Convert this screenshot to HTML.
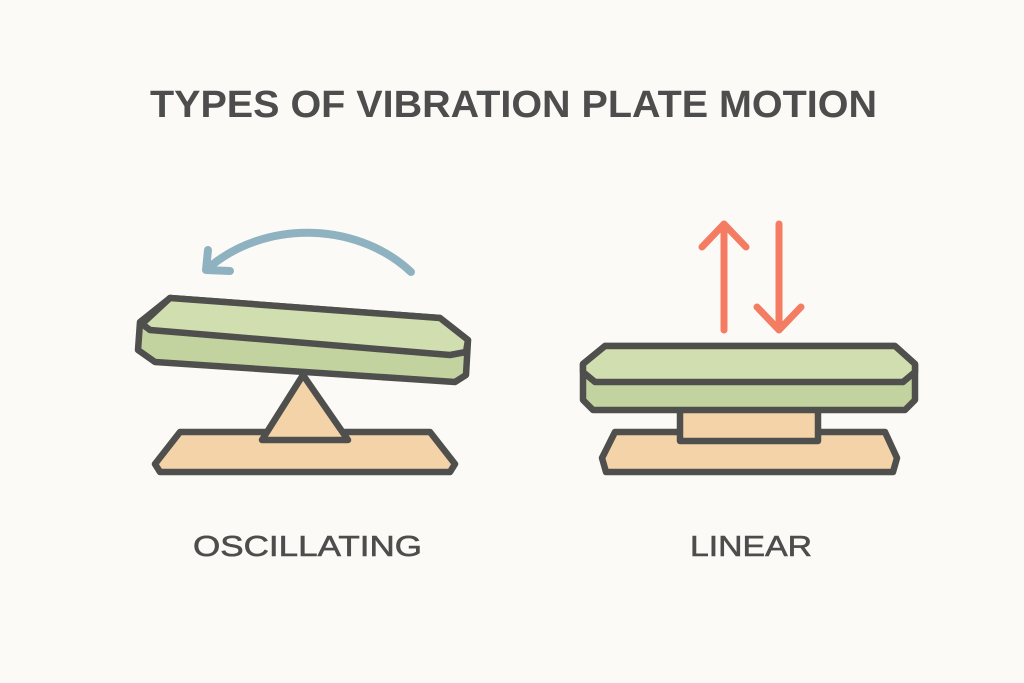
<!DOCTYPE html>
<html><head><style>
html,body{margin:0;padding:0;background:#fbfaf6;}
svg{display:block}
text{font-family:"Liberation Sans",sans-serif;fill:#4d4d4d;}
</style></head><body>
<svg width="1024" height="683" viewBox="0 0 1024 683" xmlns="http://www.w3.org/2000/svg">
<rect width="1024" height="683" fill="#fbfaf6"/>
<text x="150" y="117" font-size="38" font-weight="bold" textLength="727" lengthAdjust="spacingAndGlyphs">TYPES OF VIBRATION PLATE MOTION</text>
<text x="193" y="556" font-size="29" stroke="#4d4d4d" stroke-width="0.6" textLength="229" lengthAdjust="spacingAndGlyphs">OSCILLATING</text>
<text x="690" y="556" font-size="29" stroke="#4d4d4d" stroke-width="0.6" textLength="122" lengthAdjust="spacingAndGlyphs">LINEAR</text>

<g stroke="#4f4f4d" stroke-width="6.5" stroke-linejoin="round" stroke-linecap="round">
<!-- left -->
<path d="M180 432 L430 432 L455 464 L450 472 L160 472 L155 464 Z" fill="#f4d3a9"/>
<path d="M303 375 L348 440 L262 440 Z" fill="#f4d3a9"/>
<path d="M170 298 L440 318 L468 340 L466 375 L455 382 L155 362 L138 350 L140 322 Z" fill="#c3d3a0"/>
<path d="M170 298 L440 318 L468 340 L466 352 L450 355 L150 330 L142 324 Z" fill="#d1deb0"/>
<!-- right -->
<path d="M615 432 L885 432 L897 458 L893 472 L606 472 L602 458 Z" fill="#f4d3a9"/>
<rect x="680" y="405" width="138" height="36" fill="#f4d3a9"/>
<path d="M605 346 L895 346 L915 364 L915 400 L905 410 L593 410 L583 400 L583 364 Z" fill="#c3d3a0"/>
<path d="M605 346 L895 346 L915 364 L915 372 L903 382 L595 382 L583 372 L583 364 Z" fill="#d1deb0"/>
</g>
<g fill="none" stroke-linecap="round" stroke-linejoin="round">
<path d="M411 272 A 140 120 0 0 0 212 265" stroke="#8fb2c0" stroke-width="8"/>
<path d="M208 250 L206 270 L230 271" stroke="#8fb2c0" stroke-width="8"/>
<g stroke="#f47c63" stroke-width="7">
<path d="M724 330 L724 224 M702 247 L724 224 L746 247"/>
<path d="M779 224 L779 330 M757 307 L779 330 L801 307"/>
</g>
</g>
</svg>
</body></html>
